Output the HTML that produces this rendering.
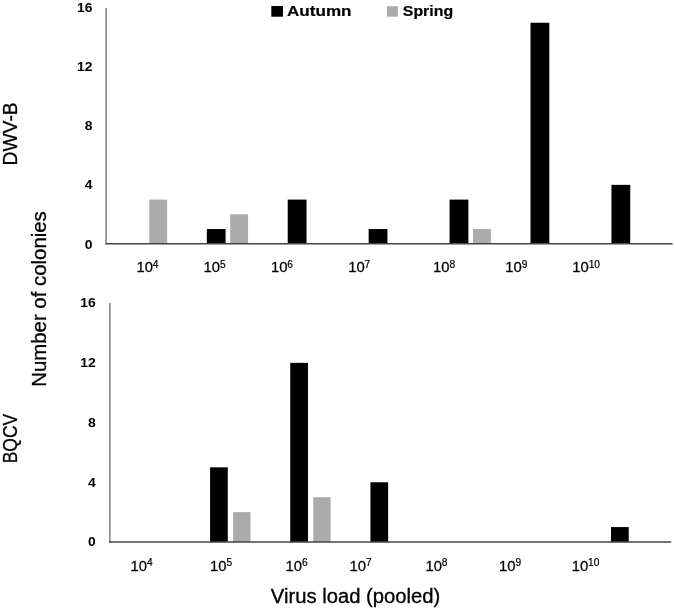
<!DOCTYPE html>
<html lang="en">
<head>
<meta charset="utf-8">
<title>Virus load chart</title>
<style>
html,body{margin:0;padding:0;background:#fff;}
body{width:675px;height:610px;overflow:hidden;}
svg{display:block;filter:blur(0.35px);}
text{font-family:"Liberation Sans",sans-serif;fill:#000;}
.tk{font-weight:bold;font-size:13px;}
.xl{font-size:14px;stroke:#000;stroke-width:0.25px;}
.sp{font-size:10.2px;stroke:#000;stroke-width:0.2px;}
.lg{font-weight:bold;font-size:15.4px;stroke:#000;stroke-width:0.2px;}
.ti{font-size:19.4px;stroke:#000;stroke-width:0.3px;}
</style>
</head>
<body>
<svg width="675" height="610" viewBox="0 0 675 610">
<rect x="0" y="0" width="675" height="610" fill="#fff"/>
<rect x="149.26" y="199.59" width="17.90" height="44.21" fill="#ababab"/>
<rect x="206.79" y="229.06" width="18.80" height="14.74" fill="#000"/>
<rect x="230.19" y="214.33" width="17.90" height="29.48" fill="#ababab"/>
<rect x="287.72" y="199.59" width="18.80" height="44.21" fill="#000"/>
<rect x="368.65" y="229.06" width="18.80" height="14.74" fill="#000"/>
<rect x="449.58" y="199.59" width="18.80" height="44.21" fill="#000"/>
<rect x="472.98" y="229.06" width="17.90" height="14.74" fill="#ababab"/>
<rect x="530.51" y="22.74" width="18.80" height="221.06" fill="#000"/>
<rect x="611.44" y="184.85" width="18.80" height="58.95" fill="#000"/>
<rect x="210.08" y="467.34" width="17.70" height="74.66" fill="#000"/>
<rect x="233.08" y="512.14" width="17.40" height="29.86" fill="#ababab"/>
<rect x="290.26" y="362.83" width="17.70" height="179.17" fill="#000"/>
<rect x="313.26" y="497.21" width="17.40" height="44.79" fill="#ababab"/>
<rect x="370.45" y="482.27" width="17.70" height="59.72" fill="#000"/>
<rect x="611.01" y="527.07" width="17.70" height="14.93" fill="#000"/>
<line x1="106.1" y1="8.0" x2="106.1" y2="244.6" stroke="#767676" stroke-width="1.4"/>
<line x1="105.4" y1="243.8" x2="672.6" y2="243.8" stroke="#444" stroke-width="1.55"/>
<line x1="109.9" y1="303.1" x2="109.9" y2="542.8" stroke="#767676" stroke-width="1.4"/>
<line x1="109.2" y1="542.0" x2="671.2" y2="542.0" stroke="#444" stroke-width="1.55"/>
<text class="tk" transform="translate(92.4,249) scale(1.07,1)" text-anchor="end">0</text>
<text class="tk" transform="translate(92.4,189) scale(1.07,1)" text-anchor="end">4</text>
<text class="tk" transform="translate(92.4,130) scale(1.07,1)" text-anchor="end">8</text>
<text class="tk" transform="translate(92.4,71) scale(1.07,1)" text-anchor="end">12</text>
<text class="tk" transform="translate(92.4,12) scale(1.07,1)" text-anchor="end">16</text>
<text class="tk" transform="translate(95.8,546) scale(1.07,1)" text-anchor="end">0</text>
<text class="tk" transform="translate(95.8,487) scale(1.07,1)" text-anchor="end">4</text>
<text class="tk" transform="translate(95.8,427) scale(1.07,1)" text-anchor="end">8</text>
<text class="tk" transform="translate(95.8,367) scale(1.07,1)" text-anchor="end">12</text>
<text class="tk" transform="translate(95.8,307) scale(1.07,1)" text-anchor="end">16</text>
<text class="xl" transform="translate(136.4,272.3) scale(1.06,1)">10</text><text class="sp" x="152.8" y="267.5">4</text>
<text class="xl" transform="translate(203.6,272.3) scale(1.06,1)">10</text><text class="sp" x="220.0" y="267.5">5</text>
<text class="xl" transform="translate(270.9,272.3) scale(1.06,1)">10</text><text class="sp" x="287.3" y="267.5">6</text>
<text class="xl" transform="translate(348.2,272.3) scale(1.06,1)">10</text><text class="sp" x="364.6" y="267.5">7</text>
<text class="xl" transform="translate(433.0,272.3) scale(1.06,1)">10</text><text class="sp" x="449.4" y="267.5">8</text>
<text class="xl" transform="translate(505.3,272.3) scale(1.06,1)">10</text><text class="sp" x="521.7" y="267.5">9</text>
<text class="xl" transform="translate(572.3,272.3) scale(1.06,1)">10</text><text class="sp" x="588.7" y="267.5">10</text>
<text class="xl" transform="translate(130.6,571.0) scale(1.06,1)">10</text><text class="sp" x="147.0" y="566.2">4</text>
<text class="xl" transform="translate(210.0,571.0) scale(1.06,1)">10</text><text class="sp" x="226.4" y="566.2">5</text>
<text class="xl" transform="translate(285.6,571.0) scale(1.06,1)">10</text><text class="sp" x="302.0" y="566.2">6</text>
<text class="xl" transform="translate(349.6,571.0) scale(1.06,1)">10</text><text class="sp" x="366.0" y="566.2">7</text>
<text class="xl" transform="translate(425.4,571.0) scale(1.06,1)">10</text><text class="sp" x="441.8" y="566.2">8</text>
<text class="xl" transform="translate(499.1,571.0) scale(1.06,1)">10</text><text class="sp" x="515.5" y="566.2">9</text>
<text class="xl" transform="translate(571.7,571.0) scale(1.06,1)">10</text><text class="sp" x="588.1" y="566.2">10</text>
<rect x="271.3" y="6.0" width="11.7" height="10.7" fill="#000"/>
<text class="lg" x="287.0" y="16.2" textLength="64.5" lengthAdjust="spacingAndGlyphs">Autumn</text>
<rect x="387.0" y="6.2" width="10.9" height="10.5" fill="#ababab"/>
<text class="lg" x="402.8" y="16.2" textLength="50.3" lengthAdjust="spacingAndGlyphs">Spring</text>
<text class="ti" transform="translate(16.6,165.4) rotate(-90)" textLength="63" lengthAdjust="spacingAndGlyphs">DWV-B</text>
<text class="ti" transform="translate(16.6,463.3) rotate(-90)" textLength="49.4" lengthAdjust="spacingAndGlyphs">BQCV</text>
<text class="ti" transform="translate(45.6,386.8) rotate(-90)" textLength="175.6" lengthAdjust="spacingAndGlyphs">Number of colonies</text>
<text class="ti" x="270.8" y="603.1" textLength="169.5" lengthAdjust="spacingAndGlyphs">Virus load (pooled)</text>
</svg>
</body>
</html>
